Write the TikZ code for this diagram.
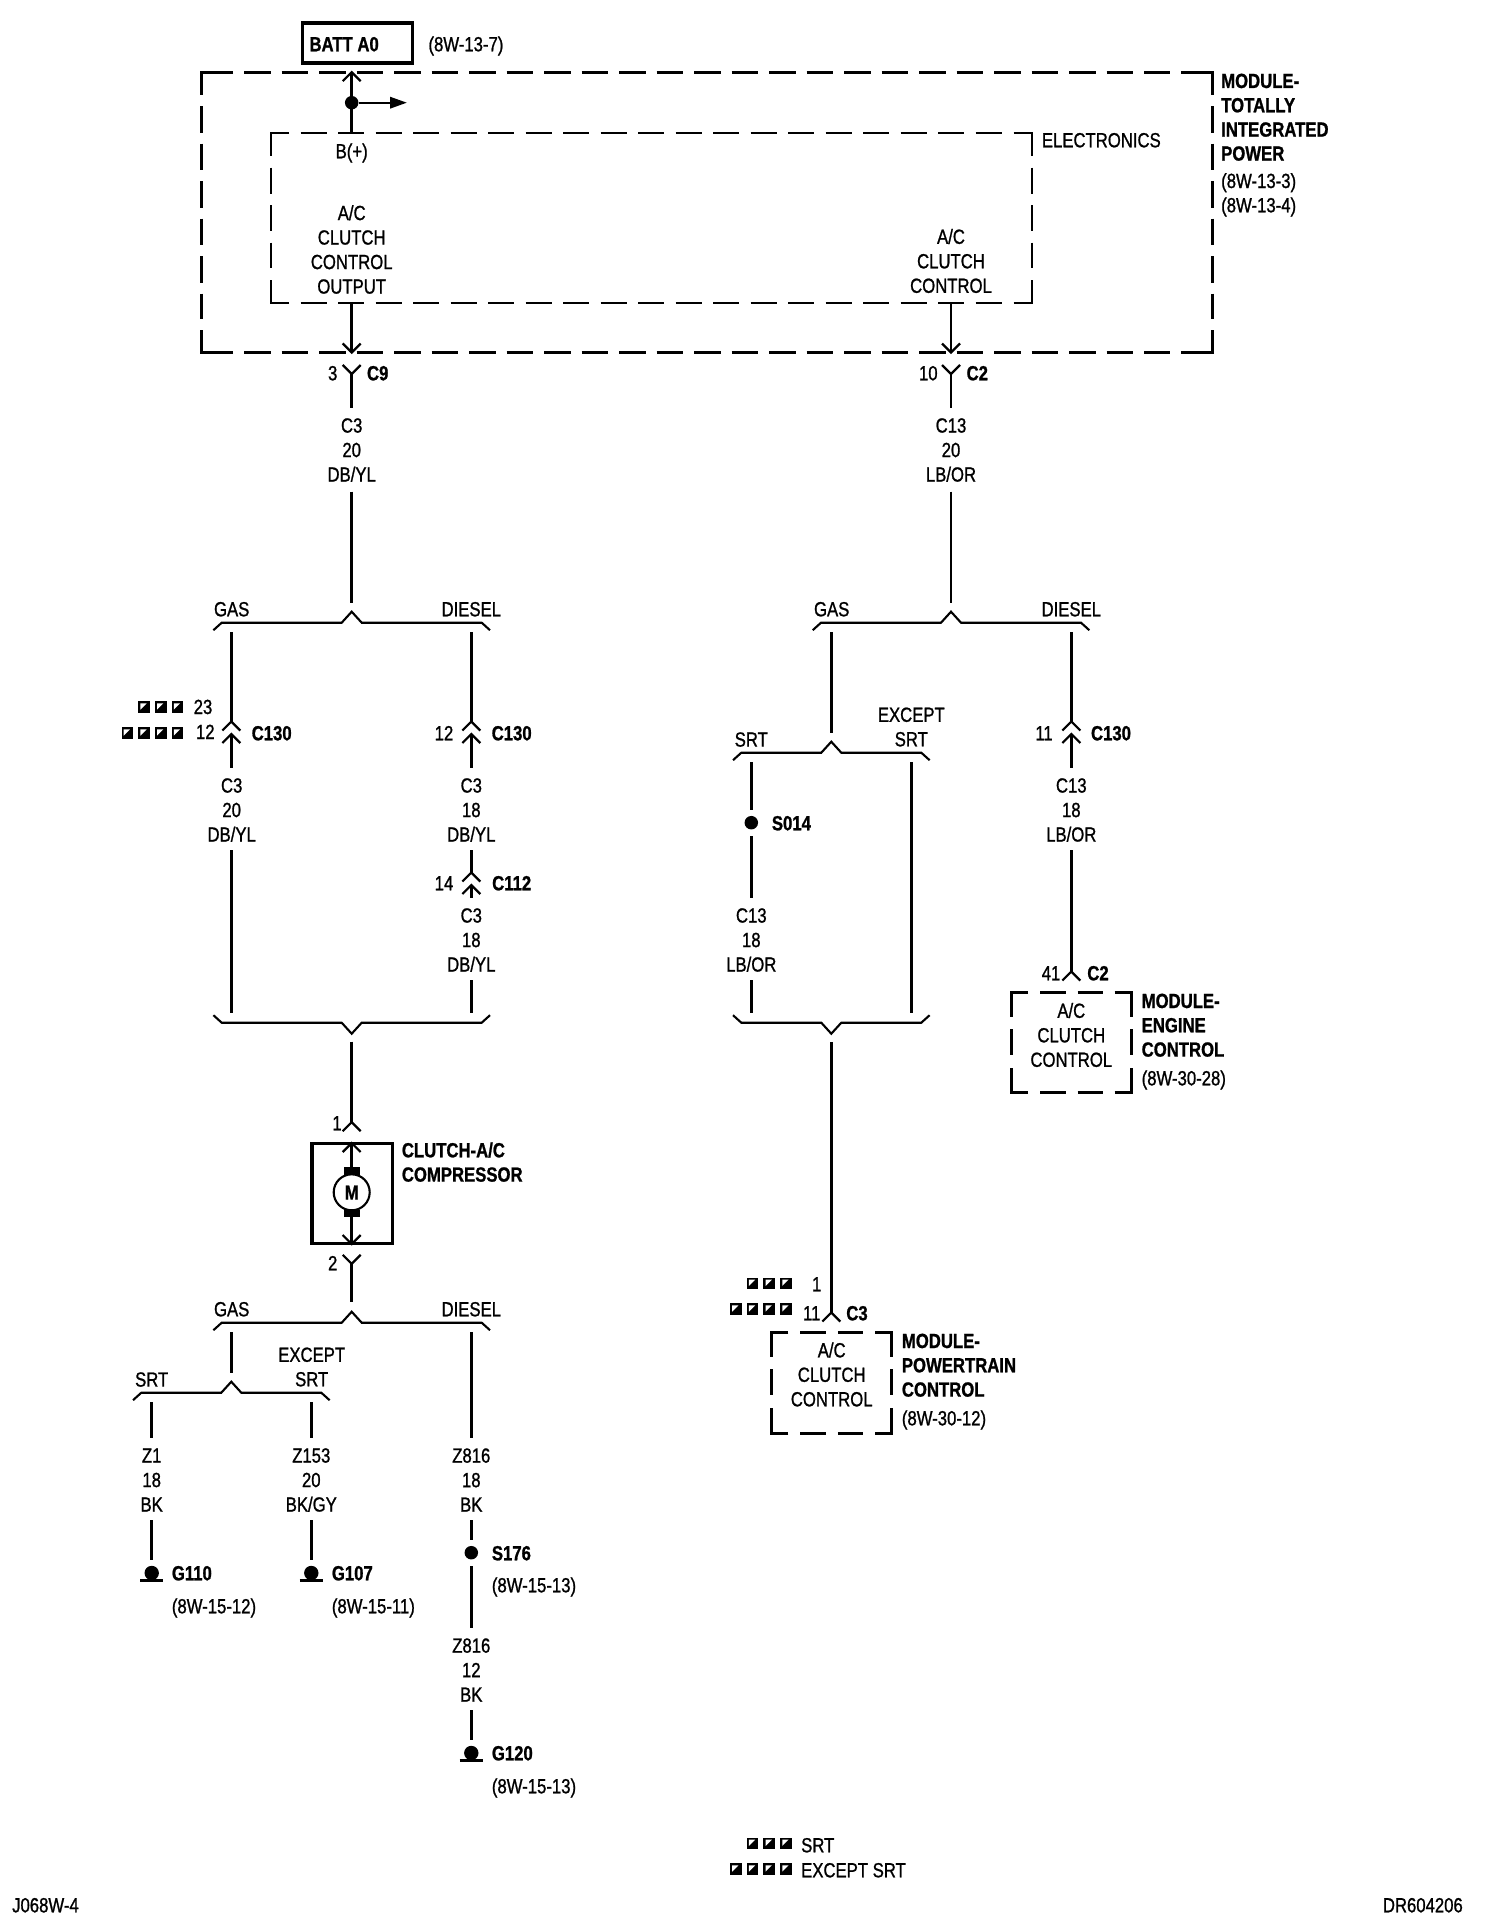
\documentclass[tikz,border=0pt]{standalone}
\usepackage{fontspec}
\setmainfont{Liberation Sans}[FakeStretch=0.815,FakeBold=1]
\tikzset{
  wire/.style={line width=2.7pt,line cap=butt},
  thin wire/.style={line width=2.2pt,line cap=butt,line join=miter},
  bracket/.style={line width=2.1pt,line join=miter},
  lbl/.style={inner sep=0pt,anchor=base,yshift=-7.3pt,font=\fontsize{20.5}{24.5}\selectfont},
  lblL/.style={lbl,anchor=base west},
  blbl/.style={lbl,font=\fontsize{20.5}{24.5}\selectfont\bfseries},
  blblL/.style={blbl,anchor=base west},
  stack/.style={inner sep=0pt,anchor=center,align=center,font=\fontsize{20.5}{24.5}\selectfont},
  dot/.style={circle,fill=black,inner sep=0pt,minimum size=#1},
  dot/.default=13.5pt,
  solidbox/.style={draw,outer sep=0pt,inner sep=0pt,anchor=north west},
}
% a vertical wire with named ends
\newcommand\wire[4]{\coordinate (#1-a) at (#2,#3);\coordinate (#1-b) at (#2,#4);\draw[wire] (#1-a) -- (#1-b);}
% chevrons: peak at (x,y), legs pointing along sign
\newcommand\chev[3]{\draw[thin wire] ({#1-9},{#2+(#3)*9}) -- (#1,#2) -- ({#1+9},{#2+(#3)*9});}
% brace: centre x, flat y, half width, direction of peak (-1 up, 1 down)
\newcommand\brc[4]{\draw[bracket] ({#1-#3-8.3},{#2-(#4)*7.5}) -- ({#1-#3},#2) -- ({#1-10},#2) -- (#1,{#2+(#4)*11}) -- ({#1+10},#2) -- ({#1+#3},#2) -- ({#1+#3+8.3},{#2-(#4)*7.5});}
% dashed box: x1 y1 x2 y2 hcorner vcorner on off width
\newcommand\dbox[9]{%
  \draw[line width=#9pt,line join=miter] ({#1+#5},#2) -- (#1,#2) -- (#1,{#2+#6});
  \draw[line width=#9pt,line join=miter] ({#3-#5},#2) -- (#3,#2) -- (#3,{#2+#6});
  \draw[line width=#9pt,line join=miter] ({#1+#5},#4) -- (#1,#4) -- (#1,{#4-#6});
  \draw[line width=#9pt,line join=miter] ({#3-#5},#4) -- (#3,#4) -- (#3,{#4-#6});
  \draw[line width=#9pt,dash pattern=on #7pt off #8pt] ({#1+#5+#8},#2) -- ({#3-#5-#8},#2);
  \draw[line width=#9pt,dash pattern=on #7pt off #8pt] ({#1+#5+#8},#4) -- ({#3-#5-#8},#4);
  \draw[line width=#9pt,dash pattern=on #7pt off #8pt] (#1,{#2+#6+#8}) -- (#1,{#4-#6-#8});
  \draw[line width=#9pt,dash pattern=on #7pt off #8pt] (#3,{#2+#6+#8}) -- (#3,{#4-#6-#8});}
% option square
\newcommand\sq[2]{\fill[black] ({#1-5.8},{#2-5.8}) rectangle ({#1+5.8},{#2+5.8});
  \fill[white] ({#1-3.6},{#2-3.6}) -- ({#1+2.6},{#2-3.6}) -- ({#1-3.6},{#2+2.6}) -- cycle;}
\newcommand\sqthree[2]{\sq{#1}{#2}\sq{#1+16.7}{#2}\sq{#1+33.4}{#2}}
\newcommand\sqfour[2]{\sq{#1}{#2}\sq{#1+16.7}{#2}\sq{#1+33.4}{#2}\sq{#1+50.1}{#2}}
% ground: x, y of line
\newcommand\gnd[2]{\fill[black] (#1,{#2-7.7}) circle (7.2);
  \draw[line width=2.7pt] ({#1-11.7},#2) -- ({#1+11.7},#2);}
\begin{document}
\begin{tikzpicture}[x=1pt,y=-1pt]
\useasboundingbox (0,0) rectangle (1504,1924);
\fill[white] (0,0) rectangle (1504,1924);

% --- top: fuse feed
\node[solidbox,line width=3.2pt,minimum width=110pt,minimum height=40pt] (batt) at (302.2,23) {};
\node[blblL] (battt) at (309.3,44) {BATT A0};
\node[lblL] (battr) at (428.3,44) {(8W-13-7)};

% --- module boxes
\dbox{201.7}{72.7}{1212.3}{352.7}{31.3}{22.5}{26.5}{11}{3.5}
\dbox{271}{133}{1031.7}{302.7}{18}{23}{26}{11.5}{2.1}
\node[lblL] (elec) at (1041.7,140) {ELECTRONICS};
\node[blblL] (tipm1) at (1221,80.7) {MODULE-};
\node[blblL] (tipm2) at (1221,105) {TOTALLY};
\node[blblL] (tipm3) at (1221,129.3) {INTEGRATED};
\node[blblL] (tipm4) at (1221,153.3) {POWER};
\node[lblL] (tipm5) at (1221,180.7) {(8W-13-3)};
\node[lblL] (tipm6) at (1221,205) {(8W-13-4)};

% --- B+ stub
\wire{bplus}{351.7}{72.7}{133}
\chev{351.7}{72.2}{1}
\node[dot] (bdot) at (351.7,102.7) {};
\coordinate (barrow) at (406.7,102.7);
\draw[line width=1.8pt] (bdot) -- (392,102.7);
\fill[black] (barrow) -- (390,96.7) -- (390,108.7) -- cycle;
\node[lbl] (bplt) at (351.7,151) {B(+)};
\node[stack] (accout) at (351.7,249.5) {A/C\\CLUTCH\\CONTROL\\OUTPUT};
\node[stack] (accr) at (951,261) {A/C\\CLUTCH\\CONTROL};

% --- left trunk
\wire{l1}{351.7}{302.7}{352}
\chev{351.7}{352.5}{-1}
\chev{351.7}{374}{-1}
\wire{l2}{351.7}{373}{408.3}
\node[lbl] (n3) at (332.7,373) {3};
\node[blbl] (c9) at (377.7,373) {C9};
\node[stack] (sl1) at (351.7,450) {C3\\20\\DB/YL};
\wire{l3}{351.7}{491.7}{602.7}
\brc{351.7}{622.7}{130}{-1}
\node[lbl] (g1) at (231.7,609) {GAS};
\node[lbl] (d1) at (471.3,609) {DIESEL};

% --- left gas
\wire{lg1}{231.3}{632.3}{722}
\chev{231.3}{721.5}{1}\chev{231.3}{734}{1}
\wire{lg1b}{231.3}{734}{768}
\node[lbl] (n23) at (203,706.7) {23};
\node[lbl] (n12a) at (205.3,731.7) {12};
\sqthree{144}{707}
\sqfour{127.3}{733}
\node[blbl] (c130a) at (271.7,733) {C130};
\node[stack] (sl2) at (231.7,810) {C3\\20\\DB/YL};
\wire{lg2}{231.3}{850}{1012.7}

% --- left diesel
\wire{ld1}{471.3}{632.3}{722}
\chev{471.3}{721.5}{1}\chev{471.3}{734}{1}
\wire{ld1b}{471.3}{734}{768}
\node[lbl] (n12b) at (444,733) {12};
\node[blbl] (c130b) at (511.7,733) {C130};
\node[stack] (sl3) at (471.3,810) {C3\\18\\DB/YL};
\wire{ld2}{471.3}{850}{873}
\chev{471.3}{872.5}{1}\chev{471.3}{885}{1}
\wire{ld2b}{471.3}{885}{898}
\node[lbl] (n14) at (444,883) {14};
\node[blbl] (c112) at (511.7,883) {C112};
\node[stack] (sl4) at (471.3,940) {C3\\18\\DB/YL};
\wire{ld3}{471.3}{980}{1012.7}

% --- lower merge to clutch
\brc{351.7}{1022.7}{130}{1}
\wire{m1}{351.7}{1041.7}{1122.7}
\chev{351.7}{1122.2}{1}
\node[lbl] (n1) at (337,1123) {1};

% --- compressor
\node[solidbox,line width=3.3pt,minimum width=80.5pt,minimum height=100pt] (clutch) at (312,1143.2) {};
\wire{ci1}{351.7}{1143}{1168}
\chev{351.7}{1143}{1}
\fill[black] (344,1167.3) rectangle (360,1176);
\fill[black] (344,1210) rectangle (360,1217.3);
\node[draw,circle,line width=2.1pt,minimum size=36pt,inner sep=0pt,fill=white] (motor) at (351.7,1192.3) {};
\node[blbl] (mt) at (351.7,1192.3) {M};
\wire{ci2}{351.7}{1217}{1244}
\chev{351.7}{1244}{-1}
\node[blblL] (cl1) at (401.7,1150) {CLUTCH-A/C};
\node[blblL] (cl2) at (401.7,1174.3) {COMPRESSOR};
\chev{351.7}{1263.8}{-1}
\wire{g1w}{351.7}{1263.3}{1302.3}
\node[lbl] (n2) at (332.7,1263) {2};

% --- ground split
\brc{351.7}{1322.7}{130}{-1}
\node[lbl] (g2) at (231.7,1309) {GAS};
\node[lbl] (d2) at (471.3,1309) {DIESEL};
\wire{gg}{231.3}{1332.3}{1372.7}
\brc{231.3}{1392.7}{90}{-1}
\node[lbl] (srt1) at (151.7,1379.3) {SRT};
\node[stack] (ex1) at (311.7,1367) {EXCEPT\\SRT};
\wire{z1a}{151.7}{1402.3}{1438.3}
\node[stack] (s5) at (151.7,1480) {Z1\\18\\BK};
\wire{z1b}{151.7}{1520}{1560}
\gnd{151.7}{1580.7}
\node[blblL] (g110) at (171.7,1573) {G110};
\node[lblL] (g110r) at (171.7,1606) {(8W-15-12)};
\wire{z2a}{311.3}{1402.3}{1438.3}
\node[stack] (s6) at (311.3,1480) {Z153\\20\\BK/GY};
\wire{z2b}{311.3}{1520}{1560}
\gnd{311.3}{1580.7}
\node[blblL] (g107) at (331.7,1573) {G107};
\node[lblL] (g107r) at (331.7,1606) {(8W-15-11)};
\wire{z3a}{471.3}{1332.3}{1438.3}
\node[stack] (s7) at (471.3,1480) {Z816\\18\\BK};
\wire{z3b}{471.3}{1520}{1540}
\node[dot] (s176d) at (471.3,1552.7) {};
\node[blblL] (s176) at (491.7,1553) {S176};
\node[lblL] (s176r) at (491.7,1585) {(8W-15-13)};
\wire{z3c}{471.3}{1566}{1628.3}
\node[stack] (s8) at (471.3,1670) {Z816\\12\\BK};
\wire{z3d}{471.3}{1710}{1740}
\gnd{471.3}{1760.7}
\node[blblL] (g120) at (491.7,1753) {G120};
\node[lblL] (g120r) at (491.7,1786) {(8W-15-13)};

% --- right trunk
\wire{r1}{951}{302.7}{352}
\chev{951}{352.5}{-1}
\chev{951}{374}{-1}
\wire{r2}{951}{373}{408.3}
\node[lbl] (n10) at (928.3,373) {10};
\node[blbl] (c2a) at (977.3,373) {C2};
\node[stack] (sr1) at (951,450) {C13\\20\\LB/OR};
\wire{r3}{951}{491.7}{602.7}
\brc{951}{622.7}{130}{-1}
\node[lbl] (g3) at (831.7,609) {GAS};
\node[lbl] (d3) at (1071.3,609) {DIESEL};

% --- right gas
\wire{rg}{831.3}{632.3}{732.7}
\brc{831.3}{752.7}{90}{-1}
\node[lbl] (srt2) at (751.3,739.3) {SRT};
\node[stack] (ex2) at (911.3,727) {EXCEPT\\SRT};
\wire{rs1}{751.3}{762.3}{810}
\node[dot] (s014d) at (751.3,822.7) {};
\node[blblL] (s014) at (771.7,823) {S014};
\wire{rs2}{751.3}{836}{898.3}
\node[stack] (sr2) at (751.3,940) {C13\\18\\LB/OR};
\wire{rs3}{751.3}{980}{1012.7}
\wire{re}{911.3}{762.3}{1012.7}
\brc{831.3}{1022.7}{90}{1}
\wire{rp}{831.3}{1042}{1313}
\chev{831.3}{1312.5}{1}
\sqthree{752.5}{1283.3}
\sqfour{735.8}{1309}
\node[lbl] (n1b) at (816.7,1284) {1};
\node[lbl] (n11) at (811.7,1313) {11};
\node[blbl] (c3) at (857,1313) {C3};
\dbox{771.7}{1332.3}{891.7}{1433.3}{16.7}{25}{25.5}{12}{3.4}
\node[stack] (pcm) at (831.7,1374.5) {A/C\\CLUTCH\\CONTROL};
\node[blblL] (pc1) at (901.7,1340.7) {MODULE-};
\node[blblL] (pc2) at (901.7,1365) {POWERTRAIN};
\node[blblL] (pc3) at (901.7,1389.3) {CONTROL};
\node[lblL] (pc4) at (901.7,1418) {(8W-30-12)};

% --- right diesel
\wire{rd1}{1071.3}{632.3}{722}
\chev{1071.3}{721.5}{1}\chev{1071.3}{734}{1}
\wire{rd1b}{1071.3}{734}{768}
\node[lbl] (n11b) at (1044,733) {11};
\node[blbl] (c130c) at (1111,733) {C130};
\node[stack] (sr3) at (1071.3,810) {C13\\18\\LB/OR};
\wire{rd2}{1071.3}{850}{972}
\chev{1071.3}{971.5}{1}
\node[lbl] (n41) at (1051,973) {41};
\node[blbl] (c2b) at (1098,973) {C2};
\dbox{1011.3}{992.3}{1131.3}{1092.7}{16.7}{25}{25.5}{12}{3.4}
\node[stack] (ecm) at (1071.3,1035) {A/C\\CLUTCH\\CONTROL};
\node[blblL] (ec1) at (1141.5,1000.7) {MODULE-};
\node[blblL] (ec2) at (1141.5,1025) {ENGINE};
\node[blblL] (ec3) at (1141.5,1049.3) {CONTROL};
\node[lblL] (ec4) at (1141.5,1078) {(8W-30-28)};

% --- legend and footer
\sqthree{752.5}{1843.3}
\sqfour{735.8}{1869}
\node[lblL] (lg1) at (801,1845) {SRT};
\node[lblL] (lg2) at (801,1870) {EXCEPT SRT};
\node[lblL] (jn) at (12,1905) {J068W-4};
\node[lblL] (dr) at (1382.7,1905) {DR604206};
\end{tikzpicture}
\end{document}
